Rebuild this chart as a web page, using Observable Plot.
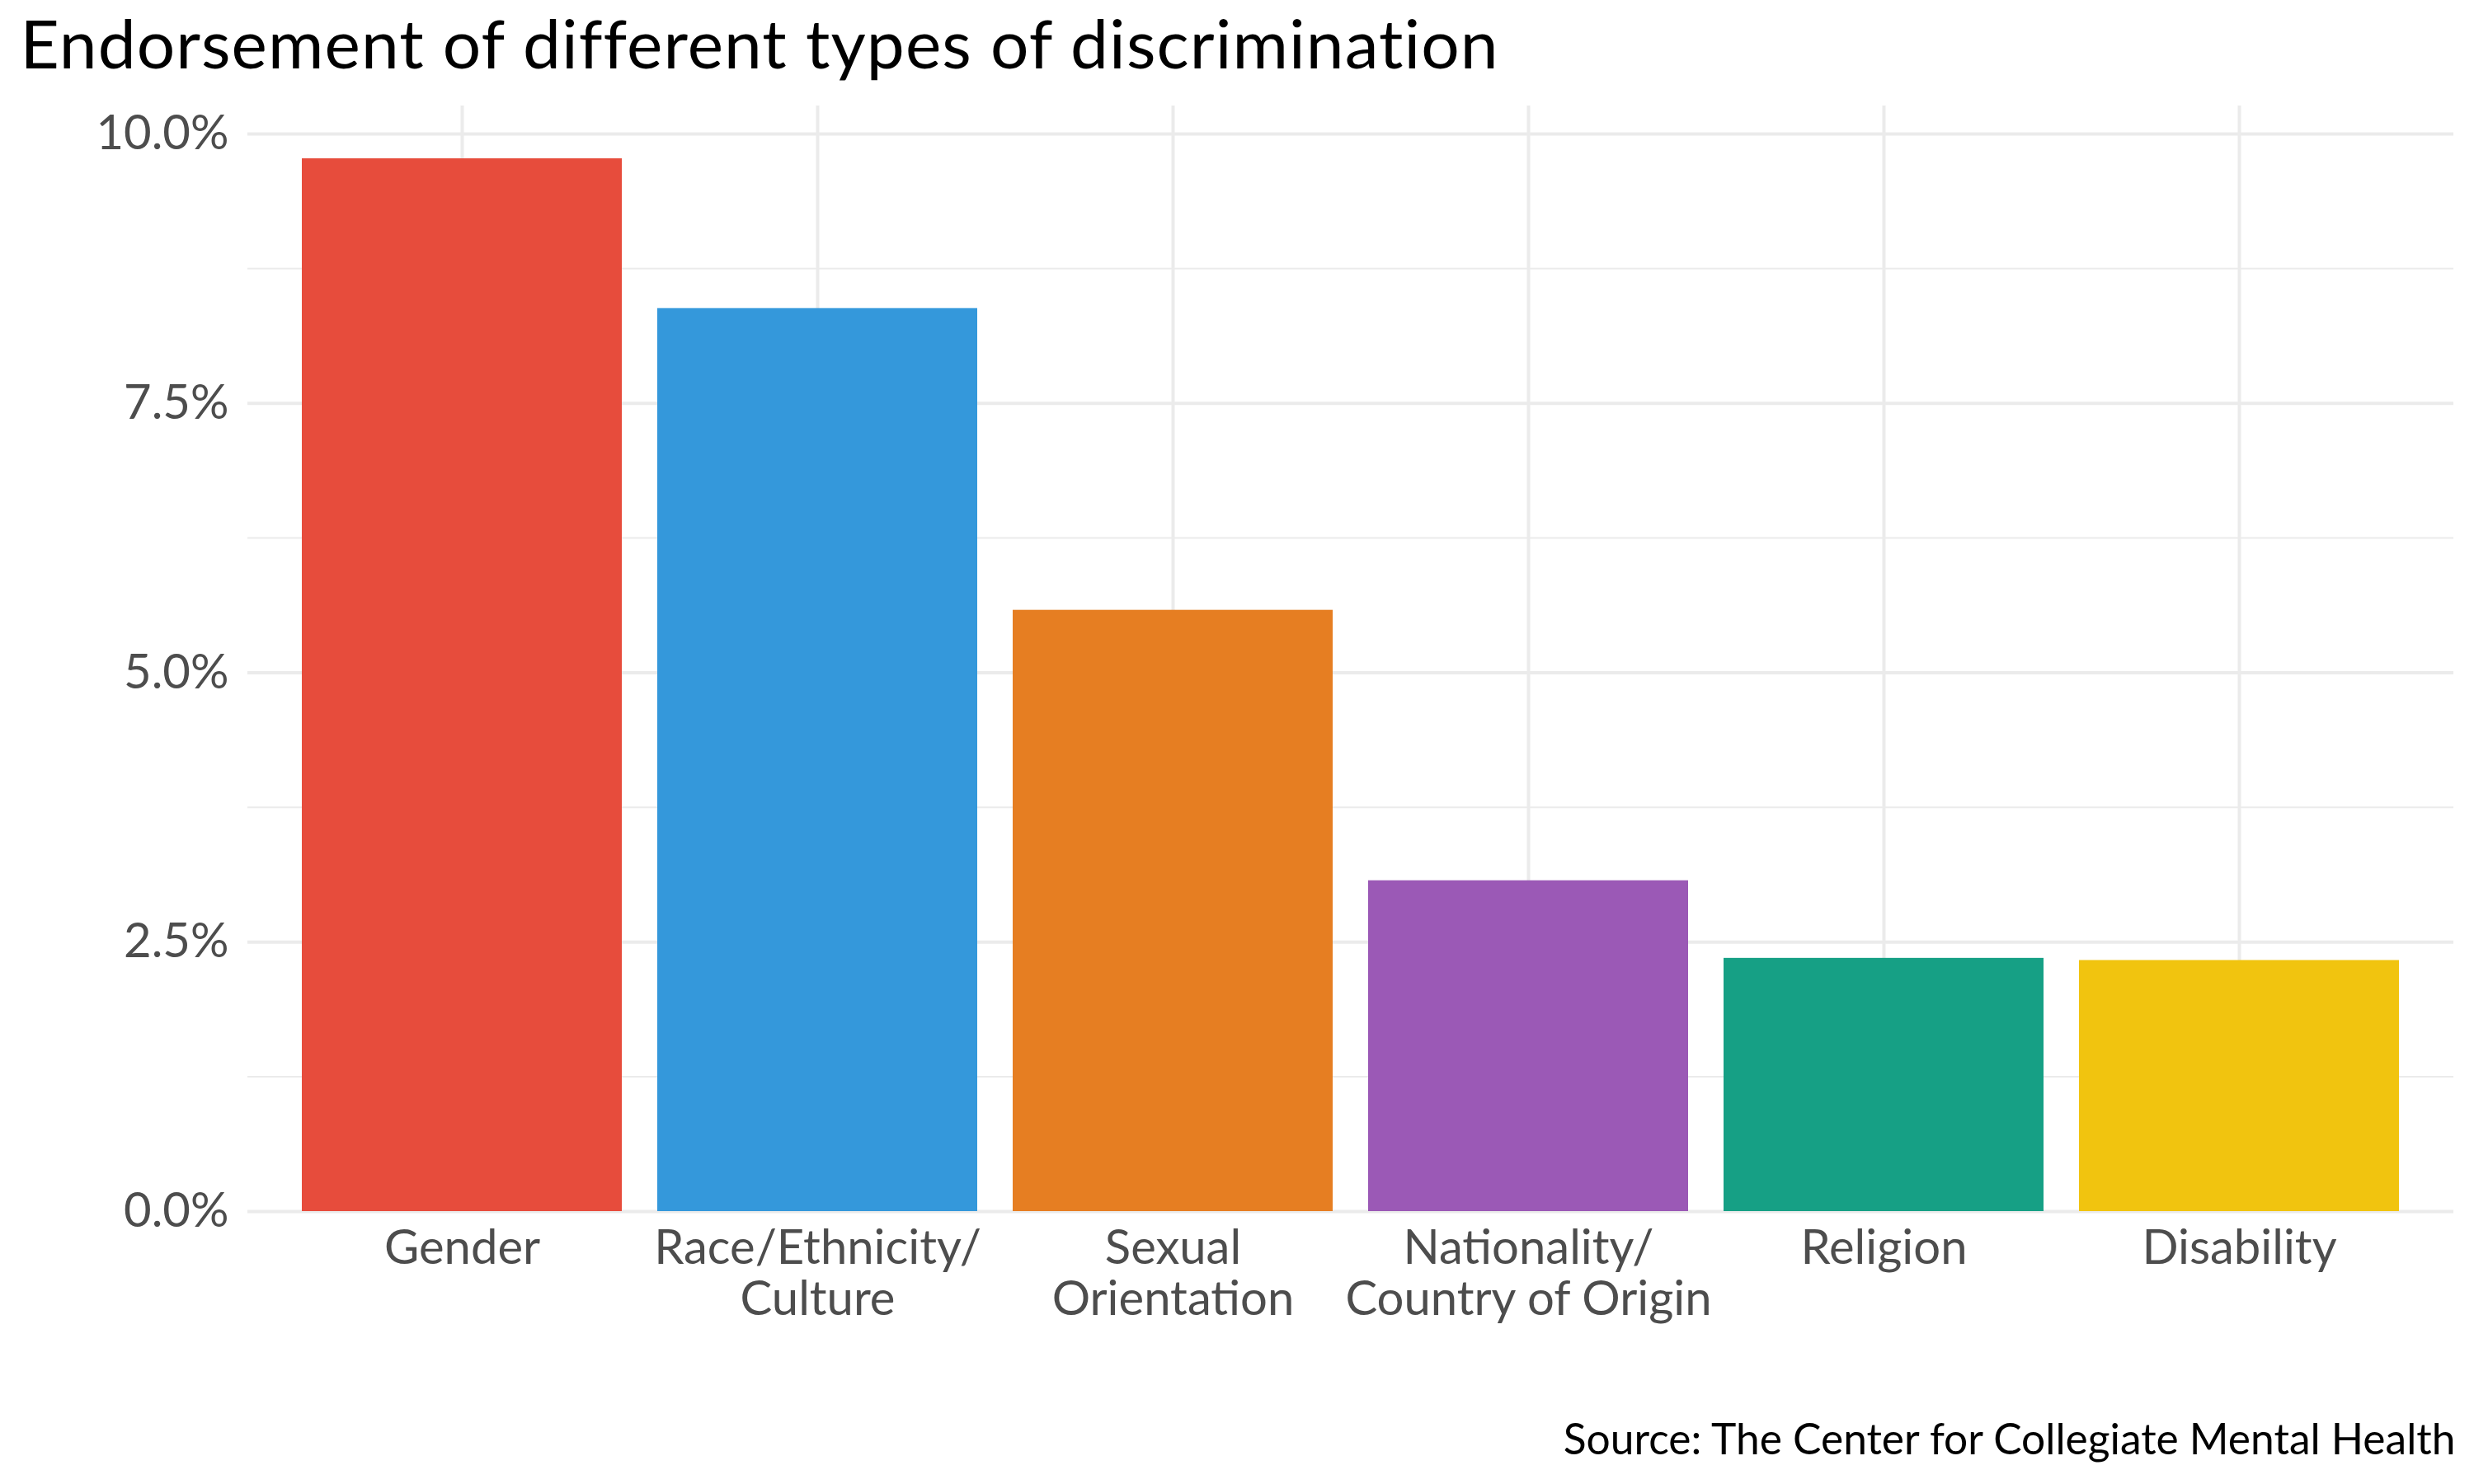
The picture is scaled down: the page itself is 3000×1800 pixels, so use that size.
<!DOCTYPE html>
<html>
<head>
<meta charset="utf-8">
<script src="https://cdn.jsdelivr.net/npm/d3@7"></script>
<script src="https://cdn.jsdelivr.net/npm/@observablehq/plot@0.6"></script>
<style>
  html, body { margin: 0; padding: 0; background: #ffffff; }
  #chart { width: 3000px; height: 1800px; }
  .title-text text { letter-spacing: 1.1px; }
</style>
</head>
<body>
<div id="chart"></div>
<script>
const categories = ["Gender", "Race/Ethnicity/\nCulture", "Sexual\nOrientation", "Nationality/\nCountry of Origin", "Religion", "Disability"];
const values = [9.77, 8.38, 5.58, 3.07, 2.35, 2.33];
const colors = ["#E74C3C", "#3498DB", "#E67E22", "#9B59B6", "#16A085", "#F1C40F"];
const majorTicks = [0, 2.5, 5, 7.5, 10];
const minorTicks = [1.25, 3.75, 6.25, 8.75];
const titleText = "Endorsement of different types of discrimination";
const captionText = "Source: The Center for Collegiate Mental Health";

const data = categories.map((c, i) => ({category: c, value: values[i]}));

const font = "Lato, 'Noto Sans', sans-serif";
const axisColor = "#4D4D4D";
const gridColor = "#EBEBEB";

const chart = Plot.plot({
  width: 3000,
  height: 1800,
  marginLeft: 300,
  marginRight: 25,
  marginTop: 128,
  marginBottom: 331,
  style: {fontFamily: font, background: "#ffffff", color: axisColor},
  x: {domain: categories, paddingInner: 0.1, paddingOuter: 0.15, align: 0.5},
  y: {domain: [0, 10.26]},
  color: {domain: categories, range: colors},
  marks: [
    Plot.gridY(minorTicks, {stroke: gridColor, strokeOpacity: 1, strokeWidth: 2}),
    Plot.gridY(majorTicks, {stroke: gridColor, strokeOpacity: 1, strokeWidth: 4}),
    Plot.gridX(categories, {stroke: gridColor, strokeOpacity: 1, strokeWidth: 4}),
    Plot.barY(data, {x: "category", y: "value", fill: "category"}),
    Plot.axisY(majorTicks, {
      tickSize: 0, tickPadding: 23, fontSize: 58, fill: axisColor,
      tickFormat: d => d.toFixed(1) + "%", label: null
    }),
    Plot.axisX({
      tickSize: 0, tickPadding: 19, fontSize: 58, fill: axisColor,
      lineHeight: 1.07, label: null, textOverflow: null
    }),
    Plot.text([titleText], {
      frameAnchor: "top-left", textAnchor: "start", lineAnchor: "bottom",
      dx: -276, dy: -46, fontSize: 82, fill: "#000000",
      className: "title-text"
    }),
    Plot.text([captionText], {
      frameAnchor: "bottom-right", textAnchor: "end", lineAnchor: "bottom",
      dx: 2, dy: 294, fontSize: 51.5, fill: "#000000"
    })
  ]
});

document.getElementById("chart").appendChild(chart);
</script>
</body>
</html>
